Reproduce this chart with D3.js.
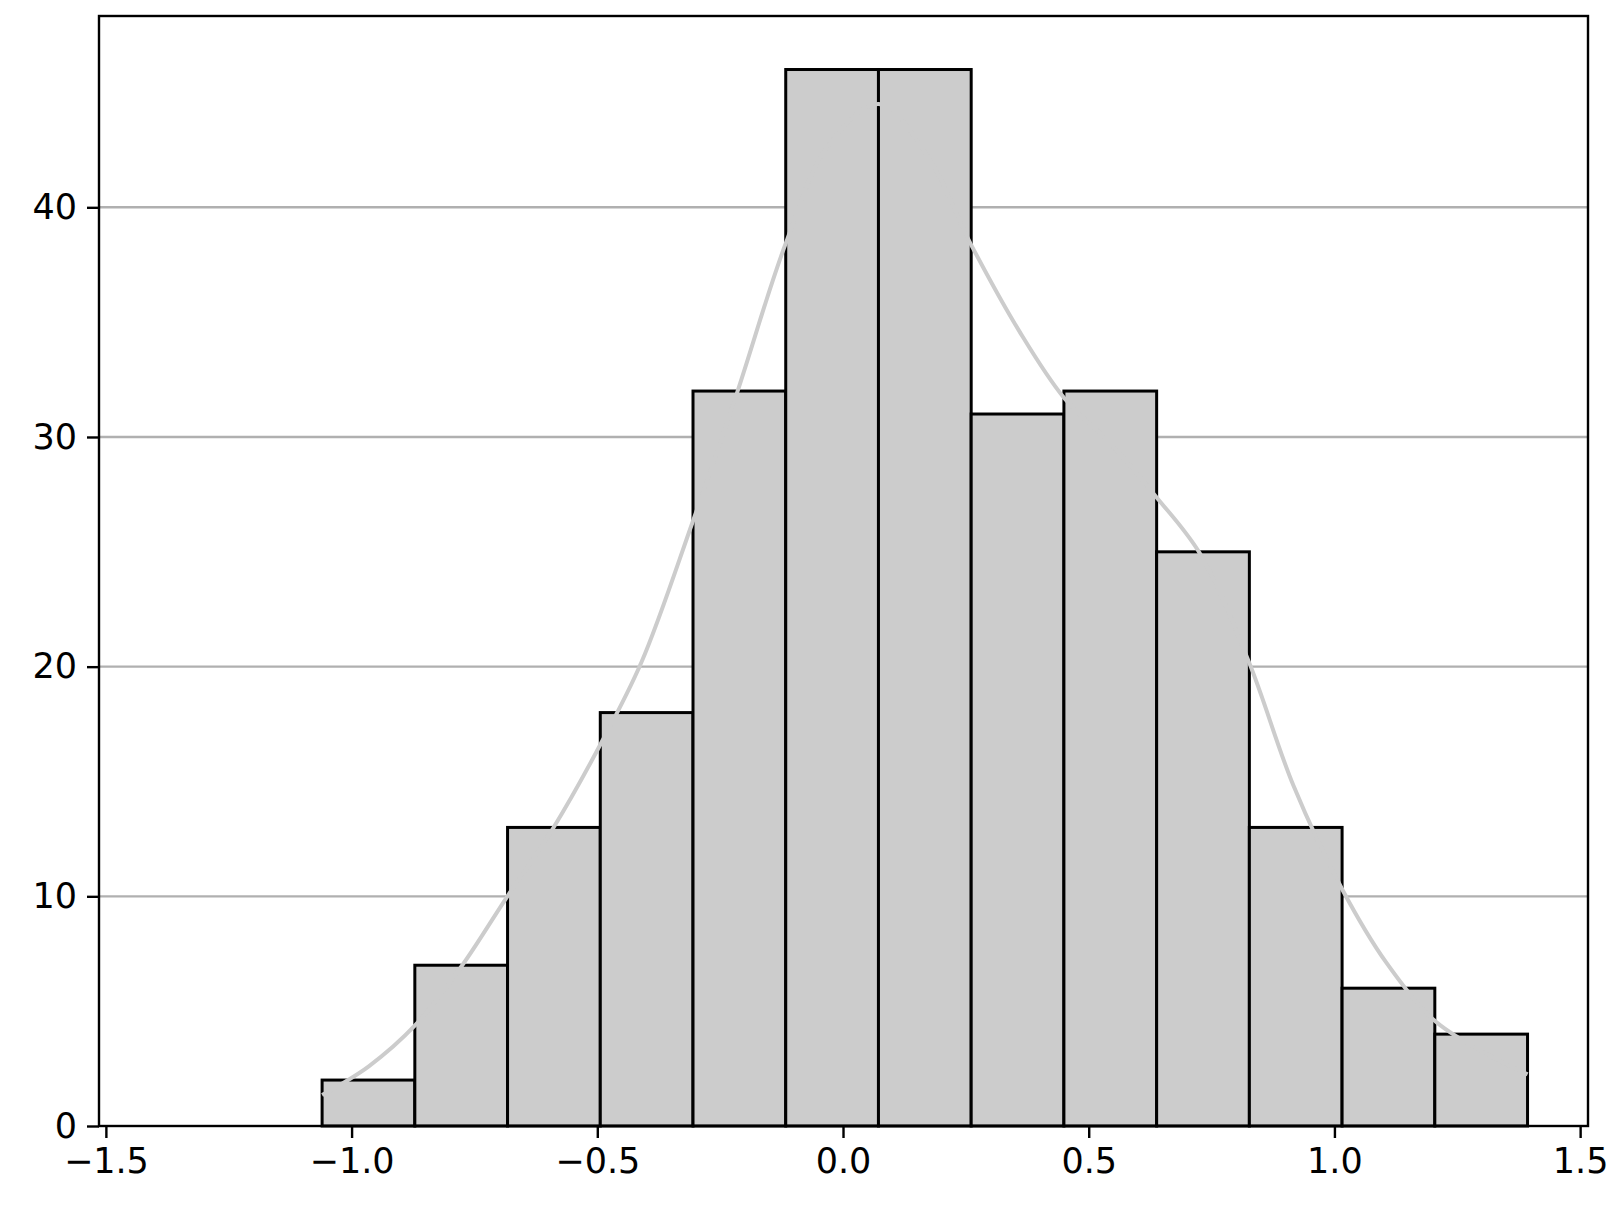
<!DOCTYPE html><html><head><script src="https://d3js.org/d3.v7.min.js"></script>
<style>body{margin:0;background:#fff}</style></head><body><svg id="c" width="1621" height="1205"></svg><script>
const binStart=-1.06, binWidth=0.18869;
const counts=[2,7,13,18,32,46,46,31,32,25,13,6,4];
const kdeX=[-1.06,-0.965,-0.87,-0.778,-0.683,-0.589,-0.494,-0.41,-0.306,-0.216,-0.117,-0.03,0.073,0.17,0.26,0.359,0.45,0.549,0.637,0.727,0.826,0.917,1.016,1.106,1.203,1.296,1.393];
const kdeY=[1.35,2.6,4.4,6.9,10.0,13.0,16.6,20.2,26.3,31.9,38.4,42.7,44.5,42.3,38.4,34.6,31.7,29.6,27.4,24.9,20.2,14.8,10.3,7.1,4.6,3.3,2.25];
const xTicks=[-1.5,-1.0,-0.5,0.0,0.5,1.0,1.5];
const yTicks=[0,10,20,30,40];
const L=99,R=1588,T=16,B=1126;
const svg=d3.select("#c");
const x=d3.scaleLinear().domain([-1.514,1.516]).range([L,R]);
const y=d3.scaleLinear().domain([0,48.33]).range([B,T]);
svg.append("g").selectAll("line").data(yTicks.slice(1)).join("line")
 .attr("x1",L).attr("x2",R).attr("y1",d=>y(d)).attr("y2",d=>y(d)).attr("stroke","#b0b0b0").attr("stroke-width",2.4);
svg.append("g").selectAll("rect").data(counts).join("rect")
 .attr("x",(d,i)=>x(binStart+i*binWidth)).attr("width",x(binWidth)-x(0))
 .attr("y",d=>y(d)).attr("height",d=>y(0)-y(d))
 .attr("fill","#cccccc").attr("stroke","#000").attr("stroke-width",3);
svg.append("path").datum(kdeX.map((v,i)=>[v,kdeY[i]]))
 .attr("d",d3.line().x(d=>x(d[0])).y(d=>y(d[1])).curve(d3.curveCatmullRom))
 .attr("fill","none").attr("stroke","#cccccc").attr("stroke-width",4);
svg.append("rect").attr("x",L).attr("y",T).attr("width",R-L).attr("height",B-T).attr("fill","none").attr("stroke","#000").attr("stroke-width",2.4);
const fmt=d=>d.toFixed(1).replace("-","\u2212");
const xa=svg.append("g").attr("transform",`translate(0,${B})`).call(d3.axisBottom(x).tickValues(xTicks).tickFormat(fmt).tickSize(12).tickPadding(10));
const ya=svg.append("g").attr("transform",`translate(${L},0)`).call(d3.axisLeft(y).tickValues(yTicks).tickSize(12).tickPadding(10));
[xa,ya].forEach(a=>{a.select(".domain").remove();a.selectAll("line").attr("stroke","#000").attr("stroke-width",2.4);
 a.selectAll("text").attr("font-family","DejaVu Sans").attr("font-size",35).attr("fill","#000");});
</script></body></html>
